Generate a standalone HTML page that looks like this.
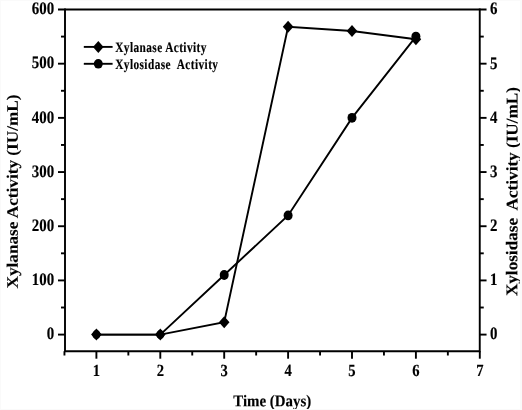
<!DOCTYPE html>
<html><head><meta charset="utf-8"><title>Chart</title>
<style>html,body{margin:0;padding:0;background:#fff}svg{display:block}</style>
</head><body>
<svg width="522" height="410" viewBox="0 0 522 410">
<rect width="522" height="410" fill="#fff"/>
<g stroke="#000" stroke-width="1.9" fill="none" stroke-linecap="butt">
<path d="M65.0 8.55V351.2H479.75V8.55"/>
<path d="M58.0 9.5H486.55"/>
<path d="M58.0 334.60H65.0"/>
<path d="M479.75 334.60H486.55"/>
<path d="M58.0 280.42H65.0"/>
<path d="M479.75 280.42H486.55"/>
<path d="M58.0 226.23H65.0"/>
<path d="M479.75 226.23H486.55"/>
<path d="M58.0 172.05H65.0"/>
<path d="M479.75 172.05H486.55"/>
<path d="M58.0 117.87H65.0"/>
<path d="M479.75 117.87H486.55"/>
<path d="M58.0 63.68H65.0"/>
<path d="M479.75 63.68H486.55"/>
<path d="M61.0 307.51H65.0"/>
<path d="M479.75 307.51H483.75"/>
<path d="M61.0 253.33H65.0"/>
<path d="M479.75 253.33H483.75"/>
<path d="M61.0 199.14H65.0"/>
<path d="M479.75 199.14H483.75"/>
<path d="M61.0 144.96H65.0"/>
<path d="M479.75 144.96H483.75"/>
<path d="M61.0 90.78H65.0"/>
<path d="M479.75 90.78H483.75"/>
<path d="M61.0 36.59H65.0"/>
<path d="M479.75 36.59H483.75"/>
<path d="M96.40 351.2V358.7"/>
<path d="M160.30 351.2V358.7"/>
<path d="M224.20 351.2V358.7"/>
<path d="M288.10 351.2V358.7"/>
<path d="M352.00 351.2V358.7"/>
<path d="M415.90 351.2V358.7"/>
<path d="M479.80 351.2V358.7"/>
<path d="M64.45 351.2V355.5"/>
<path d="M128.35 351.2V355.5"/>
<path d="M192.25 351.2V355.5"/>
<path d="M256.15 351.2V355.5"/>
<path d="M320.05 351.2V355.5"/>
<path d="M383.95 351.2V355.5"/>
<path d="M447.85 351.2V355.5"/>
<polyline points="96.40,334.60 160.30,334.60 224.20,322.14 288.10,26.84 352.00,31.06 415.90,39.30"/>
<polyline points="96.40,334.60 160.30,334.60 224.20,275.00 288.10,215.40 352.00,117.87 415.90,36.59"/>
<path d="M83.8 46.9H112.6"/>
<path d="M83.8 63.8H112.6"/>
</g>
<g fill="#000">
<ellipse cx="96.40" cy="334.60" rx="4.0" ry="4.5"/>
<ellipse cx="160.30" cy="334.60" rx="4.0" ry="4.5"/>
<ellipse cx="224.20" cy="275.00" rx="4.5" ry="4.95"/>
<ellipse cx="288.10" cy="215.40" rx="4.5" ry="4.95"/>
<ellipse cx="352.00" cy="117.87" rx="4.5" ry="4.95"/>
<ellipse cx="415.90" cy="36.59" rx="4.5" ry="4.95"/>
<path d="M91.10 334.60L96.40 328.60L101.70 334.60L96.40 340.60Z"/>
<path d="M155.00 334.60L160.30 328.60L165.60 334.60L160.30 340.60Z"/>
<path d="M218.90 322.14L224.20 316.14L229.50 322.14L224.20 328.14Z"/>
<path d="M282.80 26.84L288.10 20.84L293.40 26.84L288.10 32.84Z"/>
<path d="M346.70 31.06L352.00 25.06L357.30 31.06L352.00 37.06Z"/>
<path d="M410.60 39.30L415.90 33.30L421.20 39.30L415.90 45.30Z"/>
<path d="M93.00 46.90L98.30 40.90L103.60 46.90L98.30 52.90Z"/>
<ellipse cx="98.3" cy="63.8" rx="4.5" ry="4.8"/>
</g>
<g font-family="'Liberation Serif', 'Times New Roman', serif" font-weight="bold" fill="#000" stroke="#000" stroke-width="0.14" stroke-linejoin="round">
<text transform="translate(54.20 339.35) rotate(0.03) scale(1 1.1745)" font-size="14.9" text-anchor="end" xml:space="preserve">0</text>
<text transform="translate(490.00 339.45) rotate(0.03) scale(1 1.1745)" font-size="14.9" text-anchor="start" xml:space="preserve">0</text>
<text transform="translate(54.20 285.17) rotate(0.03) scale(1 1.1745)" font-size="14.9" text-anchor="end" xml:space="preserve">100</text>
<text transform="translate(490.00 285.27) rotate(0.03) scale(1 1.1745)" font-size="14.9" text-anchor="start" xml:space="preserve">1</text>
<text transform="translate(54.20 230.98) rotate(0.03) scale(1 1.1745)" font-size="14.9" text-anchor="end" xml:space="preserve">200</text>
<text transform="translate(490.00 231.08) rotate(0.03) scale(1 1.1745)" font-size="14.9" text-anchor="start" xml:space="preserve">2</text>
<text transform="translate(54.20 176.80) rotate(0.03) scale(1 1.1745)" font-size="14.9" text-anchor="end" xml:space="preserve">300</text>
<text transform="translate(490.00 176.90) rotate(0.03) scale(1 1.1745)" font-size="14.9" text-anchor="start" xml:space="preserve">3</text>
<text transform="translate(54.20 122.62) rotate(0.03) scale(1 1.1745)" font-size="14.9" text-anchor="end" xml:space="preserve">400</text>
<text transform="translate(490.00 122.72) rotate(0.03) scale(1 1.1745)" font-size="14.9" text-anchor="start" xml:space="preserve">4</text>
<text transform="translate(54.20 68.43) rotate(0.03) scale(1 1.1745)" font-size="14.9" text-anchor="end" xml:space="preserve">500</text>
<text transform="translate(490.00 68.53) rotate(0.03) scale(1 1.1745)" font-size="14.9" text-anchor="start" xml:space="preserve">5</text>
<text transform="translate(54.20 14.25) rotate(0.03) scale(1 1.1745)" font-size="14.9" text-anchor="end" xml:space="preserve">600</text>
<text transform="translate(490.00 14.35) rotate(0.03) scale(1 1.1745)" font-size="14.9" text-anchor="start" xml:space="preserve">6</text>
<text transform="translate(96.40 375.70) rotate(0.03) scale(1 1.1644)" font-size="14.6" text-anchor="middle" xml:space="preserve">1</text>
<text transform="translate(160.30 375.70) rotate(0.03) scale(1 1.1644)" font-size="14.6" text-anchor="middle" xml:space="preserve">2</text>
<text transform="translate(224.20 375.70) rotate(0.03) scale(1 1.1644)" font-size="14.6" text-anchor="middle" xml:space="preserve">3</text>
<text transform="translate(288.10 375.70) rotate(0.03) scale(1 1.1644)" font-size="14.6" text-anchor="middle" xml:space="preserve">4</text>
<text transform="translate(352.00 375.70) rotate(0.03) scale(1 1.1644)" font-size="14.6" text-anchor="middle" xml:space="preserve">5</text>
<text transform="translate(415.90 375.70) rotate(0.03) scale(1 1.1644)" font-size="14.6" text-anchor="middle" xml:space="preserve">6</text>
<text transform="translate(479.80 375.70) rotate(0.03) scale(1 1.1644)" font-size="14.6" text-anchor="middle" xml:space="preserve">7</text>
<text transform="translate(115.30 51.60) rotate(0.03) scale(1 1.2655)" font-size="11.3" text-anchor="start" xml:space="preserve" letter-spacing="0.42">Xylanase Activity</text>
<text transform="translate(115.30 68.50) rotate(0.03) scale(1 1.2655)" font-size="11.3" text-anchor="start" xml:space="preserve" letter-spacing="0.42">Xylosidase  Activity</text>
<text transform="translate(272.20 406.20) rotate(0.03) scale(1 1.1007)" font-size="14.9" text-anchor="middle" xml:space="preserve">Time (Days)</text>
<text transform="translate(17.70 191.50) rotate(-89.97) scale(1 0.9302)" font-size="17.2" text-anchor="middle" xml:space="preserve">Xylanase Activity (IU/mL)</text>
<text transform="translate(517.40 191.60) rotate(-89.97) scale(1 0.9563)" font-size="17.15" text-anchor="middle" xml:space="preserve">Xylosidase  Activity (IU/mL)</text>
</g>
<path d="M0 0.5H522M0.5 0V410M0 409.5H522" stroke="#fafafa" stroke-width="1" fill="none"/><path d="M521 0V410" stroke="#fafafa" stroke-width="2" fill="none"/>
</svg>
</body></html>
